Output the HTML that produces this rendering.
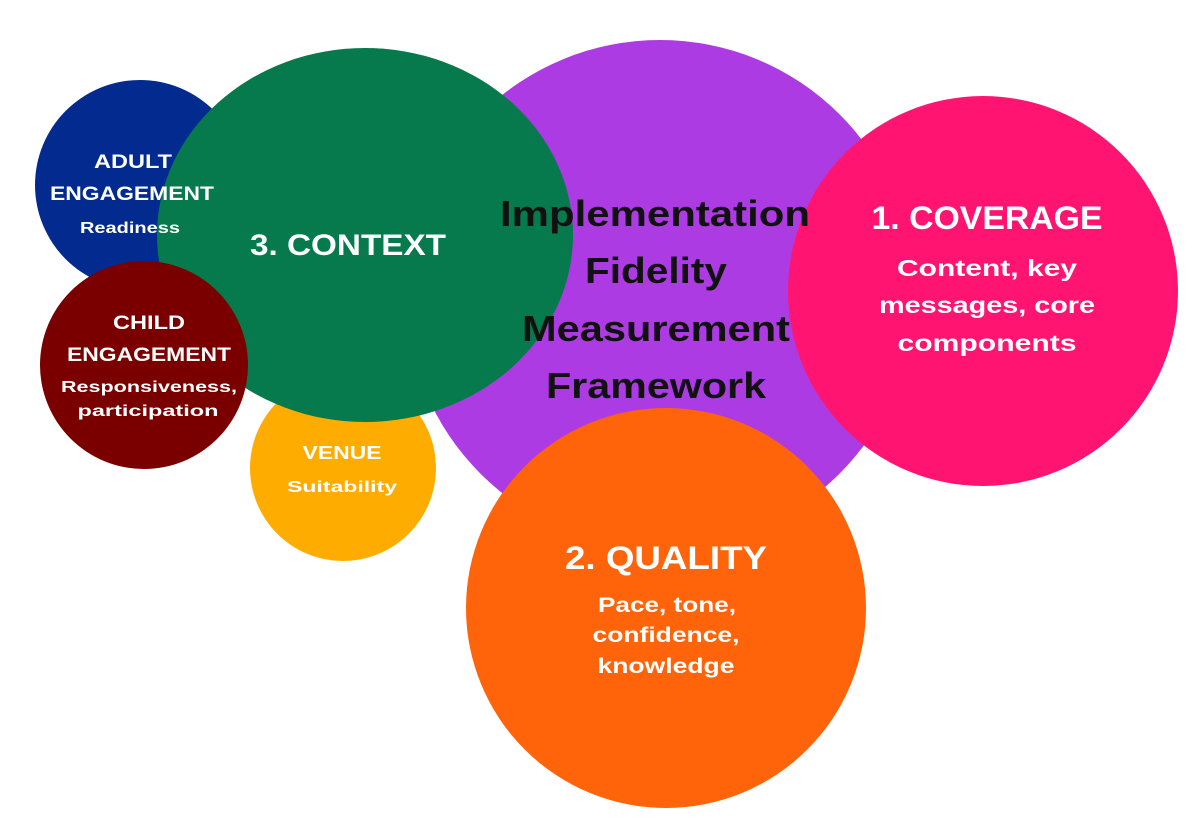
<!DOCTYPE html>
<html><head><meta charset="utf-8"><style>
html,body{margin:0;padding:0;background:#fff;width:1200px;height:819px;overflow:hidden}
svg text{font-family:"Liberation Sans",sans-serif;font-weight:bold;text-anchor:middle}
</style></head><body>
<svg width="1200" height="819" viewBox="0 0 1200 819" xmlns="http://www.w3.org/2000/svg">
<circle cx="660" cy="294" r="254" fill="#ad3be3"/>
<circle cx="983" cy="291" r="195" fill="#ff1472"/>
<circle cx="666" cy="608" r="200" fill="#ff640a"/>
<circle cx="140" cy="185" r="105" fill="#032b8f"/>
<circle cx="343" cy="468" r="93" fill="#ffac00"/>
<ellipse cx="365" cy="235" rx="208" ry="187" fill="#067a4c"/>
<circle cx="144" cy="365" r="104" fill="#7a0000"/>

<g fill="#111" font-size="36" lengthAdjust="spacingAndGlyphs">
<text x="655" y="226" textLength="310" lengthAdjust="spacingAndGlyphs">Implementation</text>
<text x="656" y="283" textLength="142" lengthAdjust="spacingAndGlyphs">Fidelity</text>
<text x="656" y="341" textLength="268" lengthAdjust="spacingAndGlyphs">Measurement</text>
<text x="656" y="398" textLength="220" lengthAdjust="spacingAndGlyphs">Framework</text>
</g>
<g fill="#fff">
<text x="987" y="229" font-size="32" textLength="231" lengthAdjust="spacingAndGlyphs">1. COVERAGE</text>
<text x="987" y="276" font-size="23" textLength="180" lengthAdjust="spacingAndGlyphs">Content, key</text>
<text x="987" y="313" font-size="23" textLength="216" lengthAdjust="spacingAndGlyphs">messages, core</text>
<text x="987" y="351" font-size="23" textLength="179" lengthAdjust="spacingAndGlyphs">components</text>

<text x="666" y="569" font-size="32" textLength="202" lengthAdjust="spacingAndGlyphs">2. QUALITY</text>
<text x="667" y="612" font-size="21" textLength="138" lengthAdjust="spacingAndGlyphs">Pace, tone,</text>
<text x="666" y="642" font-size="21" textLength="147" lengthAdjust="spacingAndGlyphs">confidence,</text>
<text x="666" y="673" font-size="21" textLength="137" lengthAdjust="spacingAndGlyphs">knowledge</text>

<text x="348" y="255" font-size="30" textLength="196" lengthAdjust="spacingAndGlyphs">3. CONTEXT</text>

<text x="133" y="168" font-size="19" textLength="78" lengthAdjust="spacingAndGlyphs">ADULT</text>
<text x="132" y="200" font-size="19" textLength="164" lengthAdjust="spacingAndGlyphs">ENGAGEMENT</text>
<text x="130" y="233" font-size="16" textLength="100" lengthAdjust="spacingAndGlyphs">Readiness</text>

<text x="149" y="329" font-size="19" textLength="72" lengthAdjust="spacingAndGlyphs">CHILD</text>
<text x="149" y="361" font-size="19" textLength="164" lengthAdjust="spacingAndGlyphs">ENGAGEMENT</text>
<text x="149" y="392" font-size="16" textLength="176" lengthAdjust="spacingAndGlyphs">Responsiveness,</text>
<text x="148" y="416" font-size="16" textLength="141" lengthAdjust="spacingAndGlyphs">participation</text>

<text x="342" y="459" font-size="18" textLength="79" lengthAdjust="spacingAndGlyphs">VENUE</text>
<text x="342" y="492" font-size="16" textLength="110" lengthAdjust="spacingAndGlyphs">Suitability</text>
</g>
</svg>
</body></html>
